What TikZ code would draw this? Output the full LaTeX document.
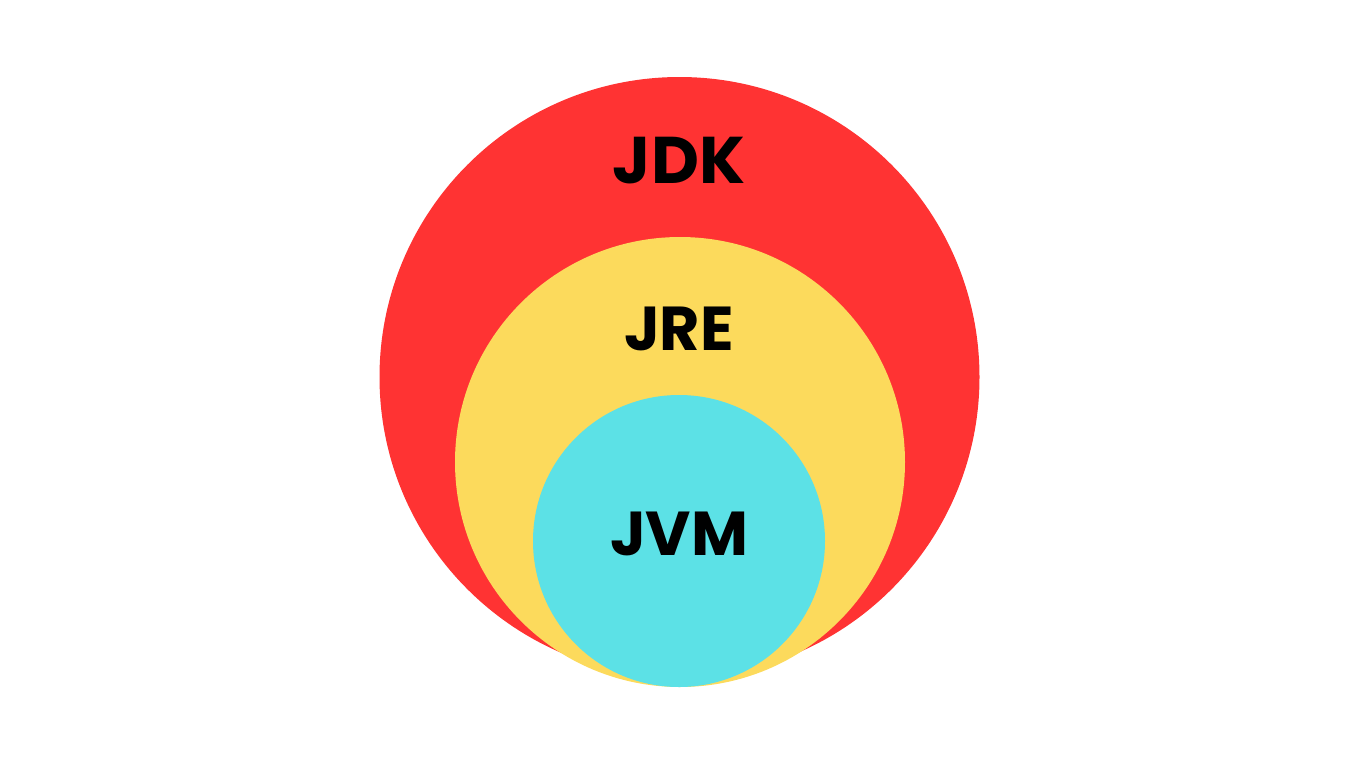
\documentclass[tikz,border=0pt]{standalone}
\usepackage{fontspec}
\setmainfont{Poppins}
\definecolor{cred}{HTML}{FF3333}
\definecolor{cyel}{HTML}{FCDA5C}
\definecolor{ccyan}{HTML}{5CE1E6}
\begin{document}
\begin{tikzpicture}[x=1pt,y=-1pt,lbl/.style={font=\bfseries\fontsize{62}{62}\selectfont,text=black,anchor=base}]
\useasboundingbox (0,0) rectangle (1358,764);
\fill[cred] (679.5,377) circle (300);
\fill[cyel] (680,462) circle (225);
\fill[ccyan] (679,541) circle (146);
\node[lbl,font=\bfseries\fontsize{66}{66}\selectfont] (jdk) at (679,183) {JDK};
\node[lbl] (jre) at (679,350) {JRE};
\node[lbl] (jvm) at (679,555) {JVM};
\end{tikzpicture}
\end{document}
